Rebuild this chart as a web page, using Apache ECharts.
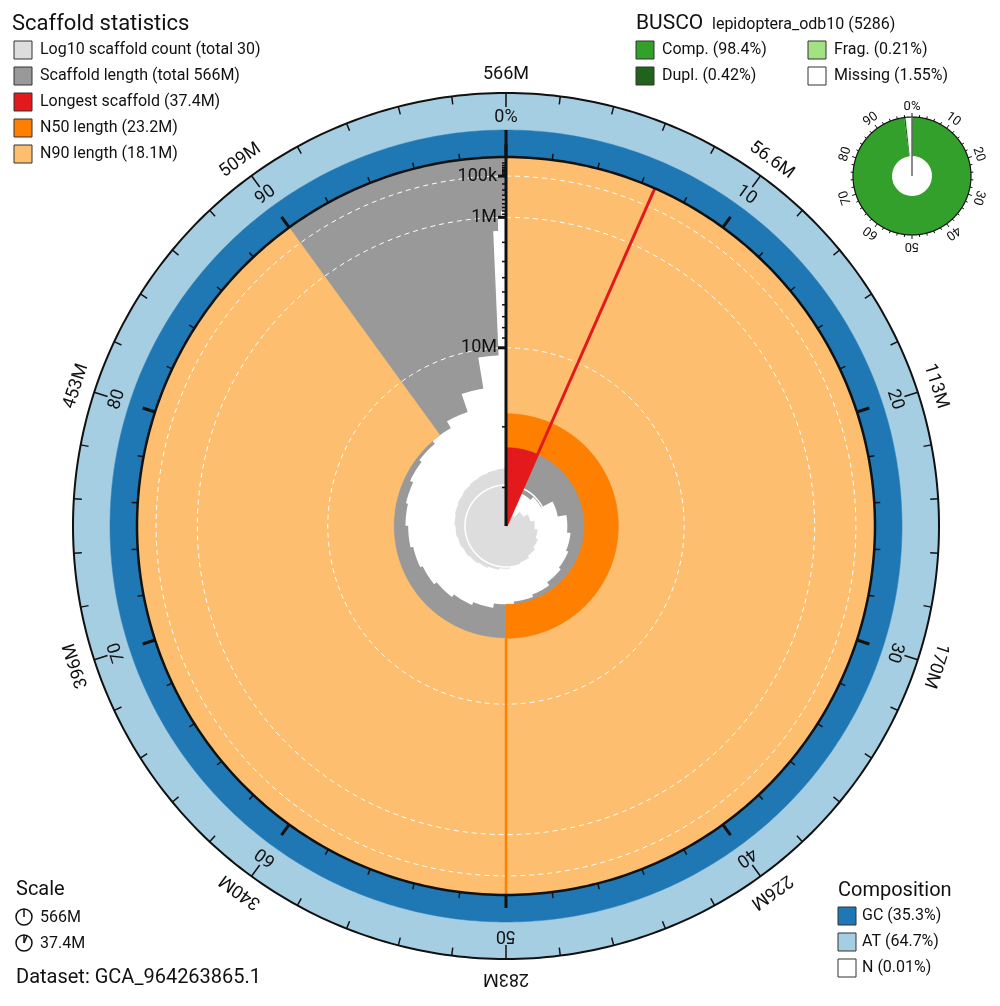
<!DOCTYPE html>
<html><head><meta charset="utf-8">
<script src="https://cdn.jsdelivr.net/npm/echarts@6/dist/echarts.min.js"></script>
<style>html,body{margin:0;padding:0;background:#fff}#c{width:1000px;height:1006px}</style>
</head><body><div id="c"></div>
<script>
// ---- data ----
const scaffoldLengthsM = [37.4,30.5,29.8,27.5,26.0,25.4,25.0,24.6,24.0,23.6,23.2,22.5,22.0,21.5,21.0,20.6,20.2,19.8,19.5,19.0,18.6,18.1,17.0,14.5,10.8,1.5,1.0,0.8,0.4,0.2];
const totalM = 566;
const longestM = 37.4, n50M = 23.2, n90M = 18.1;
const gcPct = 35.3, atPct = 64.7, nPct = 0.01;
const pctTicks = [10,20,30,40,50,60,70,80,90];
const lengthTickLabels = ['566M','56.6M','113M','170M','226M','283M','340M','396M','453M','509M'];
const radialTicksM = [0.01,0.02,0.03,0.04,0.05,0.06,0.07,0.08,0.09,0.1,0.2,0.3,0.4,0.5,0.6,0.7,0.8,0.9,1,2,3,4,5,6,7,8,9,10,20,30];
const radialLabels = [{v:0.1,t:'100k'},{v:1,t:'1M'},{v:10,t:'10M'}];
const buscoNames = ['Comp. (single)','Dupl.','Frag.','Missing'];
const buscoValues = [97.98,0.42,0.21,1.55];
const buscoTicks = [0,10,20,30,40,50,60,70,80,90];

// ---- geometry helpers ----
const R = 369, RGC = 396, ROUT = 433;
const BC = [912,176], BR = 59, BR0 = 20;
const rOf = L => R*(1-Math.sqrt(L/longestM));
const FONT = 'Roboto, "Noto Sans", sans-serif';
const cum = []; {let s=0; for(const l of scaffoldLengthsM){cum.push([s/totalM*100,(s+l)/totalM*100]); s+=l;}}

function arcPts(api,a0,a1,r0,r1){
  const pts=[]; const n=Math.max(2,Math.ceil((a1-a0)/0.2));
  for(let i=0;i<=n;i++){const a=a0+(a1-a0)*i/n; pts.push(api.coord([r1,a]));}
  for(let i=n;i>=0;i--){const a=a0+(a1-a0)*i/n; pts.push(r0<=0?api.coord([0,0]):api.coord([r0,a]));}
  return pts;
}
function sectorSeries(rows,color,z){
  return {type:'custom',coordinateSystem:'polar',polarIndex:0,z:z,silent:true,data:rows,
    renderItem:(p,api)=>({type:'polygon',shape:{points:arcPts(api,api.value(0),api.value(1),api.value(2),api.value(3))},style:{fill:color,stroke:color,lineWidth:0.5}})};
}
function stepSeries(rows,rc,color,z){
  return {type:'custom',coordinateSystem:'polar',polarIndex:0,z:z,silent:true,data:[0],
    renderItem:(p,api)=>{const pts=[];
      for(const rw of rows){const n=Math.max(1,Math.ceil((rw[1]-rw[0])/0.2));
        for(let i=0;i<=n;i++)pts.push(api.coord([rw[2],rw[0]+(rw[1]-rw[0])*i/n]));}
      if(rc<=0)pts.push(api.coord([0,0]));
      else for(let a=100;a>=0;a-=0.2)pts.push(api.coord([rc,a]));
      return {type:'polygon',shape:{points:pts},style:{fill:color}};}};
}
function circleSeries(rad,color,width,dash,z,pi){
  return {type:'custom',coordinateSystem:'polar',polarIndex:pi||0,z:z,silent:true,data:[[rad]],
    renderItem:(p,api)=>{const pts=[];for(let a=0;a<=100;a+=0.25)pts.push(api.coord([api.value(0),a]));
      return {type:'polyline',shape:{points:pts},style:{stroke:color,lineWidth:width,lineDash:dash||null,fill:null}};}};
}
function lineSeries(rows,color,width,z,pi){
  return {type:'custom',coordinateSystem:'polar',polarIndex:pi||0,z:z,silent:true,data:rows,
    renderItem:(p,api)=>{const a=api.coord([api.value(1),api.value(0)]),b=api.coord([api.value(2),api.value(0)]);
      return {type:'line',shape:{x1:a[0],y1:a[1],x2:b[0],y2:b[1]},style:{stroke:color,lineWidth:width}};}};
}
function textSeries(rows,size,z,pi){
  return {type:'custom',coordinateSystem:'polar',polarIndex:pi||0,z:z,silent:true,data:rows,
    renderItem:(p,api)=>{const ang=api.value(0),rr=api.value(1);const c=api.coord([rr,ang]);
      return {type:'text',x:c[0],y:c[1],rotation:-ang/100*2*Math.PI,
        style:{text:rows[p.dataIndex][2],fill:'#111',font:size+'px '+FONT,align:'center',verticalAlign:'middle'}};}};
}

// layers
const grayRows = scaffoldLengthsM.map((l,i)=>[cum[i][0],cum[i][1],rOf(l)]);
const countRows = scaffoldLengthsM.map((l,i)=>[cum[i][0],cum[i][1],41*Math.log10(i+1)]);
const n90Row = [[0,90,rOf(n90M),R]];
const n50Row = [[0,50,rOf(n50M),rOf(n90M)]];
const longestRow = [[0,longestM/totalM*100,0,rOf(n50M)]];
const gcRow = [[0,100,R,RGC]], atRow=[[0,100,RGC,ROUT]];

const outerTicks=[], innerTicks=[];
for(let a=0;a<100;a+=2){ const maj=a%10===0;
  outerTicks.push([a,ROUT-(maj?14:8),ROUT]); innerTicks.push([a,R,R+(maj?13:6)]); }
const outerLabels = lengthTickLabels.map((t,i)=>[i*10,452,t]);
const innerLabels = [[0,409,'0%']].concat(pctTicks.map(v=>[v,409,String(v)]));
const buscoLabels = [[0,BR+10,'0%']].concat(buscoTicks.slice(1).map(v=>[v,BR+11,String(v)]));
const buscoTickRows=[]; for(let a=0;a<100;a+=2){buscoTickRows.push([a,BR,a%10===0?BR+4:BR+2.5]);}

const radialTickSeries = {type:'custom',coordinateSystem:'polar',polarIndex:0,z:20,silent:true,data:radialTicksM,
  renderItem:(p,api)=>{const c=api.coord([rOf(api.value(0)),0]);const maj=radialLabels.some(o=>o.v===api.value(0));
    const g={type:'group',children:[{type:'line',shape:{x1:c[0]-(maj?8:4),y1:c[1],x2:c[0],y2:c[1]},style:{stroke:'#111',lineWidth:maj?3:1.5}}]};
    const lab=radialLabels.find(o=>o.v===api.value(0));
    if(lab)g.children.push({type:'text',x:c[0]-9,y:c[1],style:{text:lab.t,font:'18px '+FONT,fill:'#111',align:'right',verticalAlign:'middle'}});
    return g;}};

const chart = echarts.init(document.getElementById('c'),null,{renderer:'canvas'});
const hidden={show:false};
const T = (x,y,text,size)=>({type:'text',left:x,top:y,style:{text:text,font:size+'px '+FONT,fill:'#111'}});
chart.setOption({
  animation:false,
  polar:[{center:[506,526],radius:ROUT},{center:BC,radius:BR}],
  radiusAxis:[{polarIndex:0,min:0,max:ROUT,axisLine:hidden,axisTick:hidden,axisLabel:hidden,splitLine:hidden},
              {polarIndex:1,min:0,max:BR,axisLine:hidden,axisTick:hidden,axisLabel:hidden,splitLine:hidden}],
  angleAxis:[{polarIndex:0,min:0,max:100,startAngle:90,clockwise:true,axisLine:hidden,axisTick:hidden,axisLabel:hidden,splitLine:hidden},
             {polarIndex:1,min:0,max:100,startAngle:90,clockwise:true,axisLine:hidden,axisTick:hidden,axisLabel:hidden,splitLine:hidden}],
  series:[
    sectorSeries(atRow,'#a6cee3',1),
    sectorSeries(gcRow,'#1f78b4',2),
    stepSeries(grayRows,R,'#999999',3),
    sectorSeries(n90Row,'#fdbf6f',4),
    sectorSeries(n50Row,'#ff7f00',5),
    stepSeries(countRows,0,'#dddddd',6),
    circleSeries(41,'#ffffff',1.5,null,7),
    sectorSeries(longestRow,'#e31a1c',8),
    circleSeries(rOf(10),'#ffffff',1,[5,4],9),
    circleSeries(rOf(1),'#ffffff',1,[5,4],9),
    circleSeries(rOf(0.1),'#ffffff',1,[5,4],9),
    lineSeries([[longestM/totalM*100,0,R]],'#e31a1c',3,10),
    lineSeries([[50,rOf(n90M),R]],'#ff7f00',2.5,10),
    circleSeries(R,'#111',2.5,null,12),
    circleSeries(ROUT,'#111',2,null,12),
    lineSeries(outerTicks,'#111',1.5,12),
    lineSeries(innerTicks.filter(t=>t[0]%10!==0),'#111',1.5,12),
    lineSeries(innerTicks.filter(t=>t[0]%10===0),'#111',3,12),
    lineSeries([[0,0,RGC]],'#111',3,19),
    radialTickSeries,
    textSeries(outerLabels,18,15),
    textSeries(innerLabels,18,15),
    {type:'pie',center:BC,radius:[BR0,BR],startAngle:90,clockwise:true,silent:true,label:hidden,labelLine:hidden,z:5,
      data:buscoNames.map((n,i)=>({name:n,value:buscoValues[i],itemStyle:{color:['#33a02c','#20641c','#a3e283','#ffffff'][i]}}))},
    lineSeries(buscoTickRows,'#111',1,12,1),
    lineSeries([[0,0,BR]],'#666',1.5,13,1),
    circleSeries(BR,'#111',1.2,null,12,1),
    textSeries(buscoLabels,13,15,1)
  ],
  graphic:[
    T(12,13,'Scaffold statistics',22),
    ...[['#dddddd','Log10 scaffold count (total 30)'],['#999999','Scaffold length (total 566M)'],['#e31a1c','Longest scaffold (37.4M)'],['#ff7f00','N50 length (23.2M)'],['#fdbf6f','N90 length (18.1M)']].flatMap((e,i)=>[
      {type:'rect',shape:{x:14,y:41+i*26,width:18,height:18},style:{fill:e[0],stroke:'#333',lineWidth:1}},
      T(40,42+i*26,e[1],16)]),
    T(636,13,'BUSCO',21),
    T(712,17,'lepidoptera_odb10 (5286)',16),
    ...[['#33a02c','Comp. (98.4%)',636,41],['#20641c','Dupl. (0.42%)',636,67],['#a3e283','Frag. (0.21%)',808,41],['#ffffff','Missing (1.55%)',808,67]].flatMap(e=>[
      {type:'rect',shape:{x:e[2],y:e[3],width:18,height:18},style:{fill:e[0],stroke:'#333',lineWidth:1}},
      T(e[2]+26,e[3]+1,e[1],16)]),
    T(16,880,'Scale',20),
    {type:'circle',shape:{cx:24,cy:917,r:8},style:{fill:null,stroke:'#111',lineWidth:1.5}},
    {type:'line',shape:{x1:24,y1:917,x2:24,y2:909},style:{stroke:'#111',lineWidth:1.5}},
    T(40,910,'566M',16),
    {type:'circle',shape:{cx:24,cy:943,r:8},style:{fill:null,stroke:'#111',lineWidth:1.5}},
    {type:'line',shape:{x1:24,y1:943,x2:24,y2:935},style:{stroke:'#111',lineWidth:1.5}},
    {type:'line',shape:{x1:24,y1:943,x2:27,y2:936},style:{stroke:'#111',lineWidth:1.5}},
    T(40,936,'37.4M',16),
    T(16,968,'Dataset: GCA_964263865.1',20),
    T(838,881,'Composition',20),
    ...[['#1f78b4','GC ('+gcPct+'%)'],['#a6cee3','AT ('+atPct+'%)'],['#ffffff','N ('+nPct+'%)']].flatMap((e,i)=>[
      {type:'rect',shape:{x:838,y:907+i*26,width:18,height:18},style:{fill:e[0],stroke:'#333',lineWidth:1}},
      T(862,908+i*26,e[1],16)])
  ]
});
</script></body></html>
